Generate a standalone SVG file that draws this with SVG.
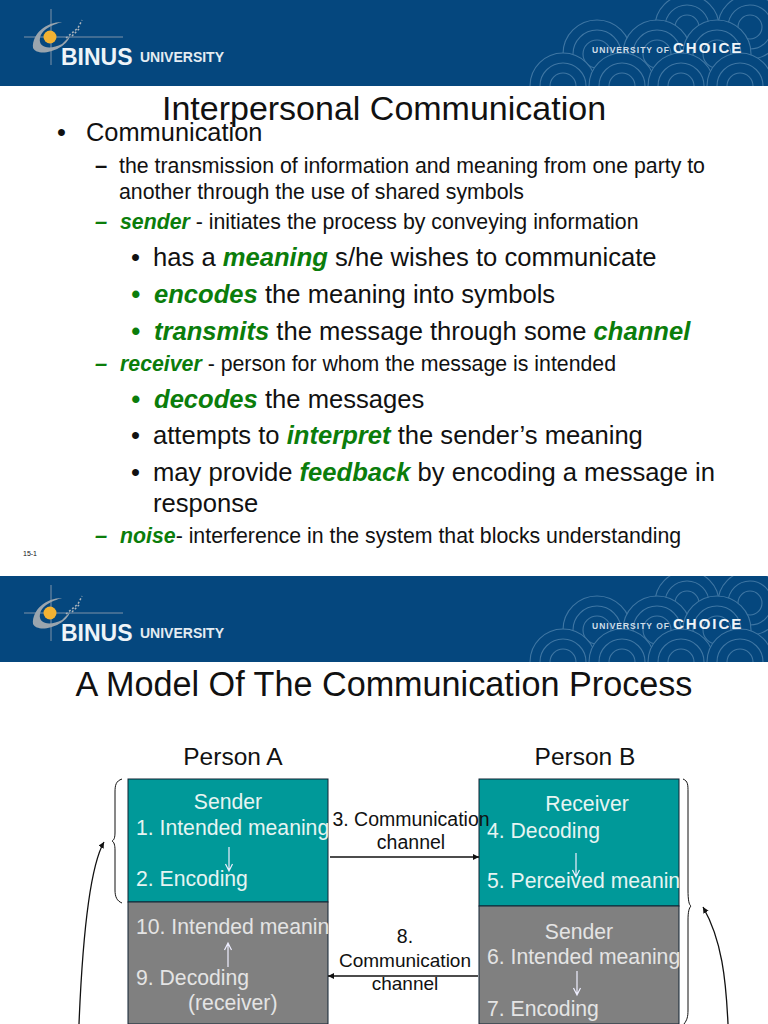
<svg xmlns="http://www.w3.org/2000/svg" width="768" height="1024" viewBox="0 0 768 1024">
<style>
text{font-family:"Liberation Sans",Arial,sans-serif;fill:#111}
.g{font-weight:bold;font-style:italic;fill:#0b7d0b}
.t{font-size:34px}
.l1{font-size:25.400px}
.dash{font-size:22px;font-weight:bold}
.l3{font-size:25.600px}
.d{font-size:21.300px}
.w{fill:#e6f4f2;font-size:21.200px}
.y{fill:#e4e4e4;font-size:21.200px}
.m{text-anchor:middle}
.box{stroke:#123;stroke-width:1}
.conn{fill:none;stroke:#111;stroke-width:1.300px}
.wa{stroke:#eef;stroke-width:1.200px;fill:none}
.arc{fill:#05477e;stroke:#3f76a3;stroke-width:1.100px}
.b1{font-weight:bold;fill:#eef4f8;font-size:23px}
.b2{font-weight:bold;fill:#e4ecf2;font-size:14px}
.u1{fill:#cfdde8;font-size:8.500px;font-weight:bold;letter-spacing:1px}
.u2{fill:#eef4f8;font-size:15px;font-weight:bold;letter-spacing:2px}
</style>
<defs>
<clipPath id="bc"><rect x="520" y="0" width="248" height="86"/></clipPath>
<marker id="ah" markerUnits="userSpaceOnUse" markerWidth="7" markerHeight="7" refX="6" refY="3" orient="auto"><path d="M0 0L6 3L0 6z" fill="#111"/></marker>
<g id="pat">
<g clip-path="url(#bc)">
<circle cx="687" cy="27" r="32" class="arc"/><circle cx="687" cy="27" r="22" class="arc"/><circle cx="687" cy="27" r="12" class="arc"/>
<circle cx="750" cy="27" r="32" class="arc"/><circle cx="750" cy="27" r="22" class="arc"/><circle cx="750" cy="27" r="12" class="arc"/>
<circle cx="597" cy="54" r="34" class="arc"/><circle cx="597" cy="54" r="24" class="arc"/><circle cx="597" cy="54" r="14" class="arc"/>
<circle cx="657" cy="54" r="34" class="arc"/><circle cx="657" cy="54" r="24" class="arc"/><circle cx="657" cy="54" r="14" class="arc"/>
<circle cx="717" cy="54" r="34" class="arc"/><circle cx="717" cy="54" r="24" class="arc"/><circle cx="717" cy="54" r="14" class="arc"/>
<circle cx="563" cy="86" r="33" class="arc"/><circle cx="563" cy="86" r="23" class="arc"/><circle cx="563" cy="86" r="13" class="arc"/>
<circle cx="622" cy="86" r="33" class="arc"/><circle cx="622" cy="86" r="23" class="arc"/><circle cx="622" cy="86" r="13" class="arc"/>
<circle cx="681" cy="86" r="33" class="arc"/><circle cx="681" cy="86" r="23" class="arc"/><circle cx="681" cy="86" r="13" class="arc"/>
<circle cx="740" cy="86" r="33" class="arc"/><circle cx="740" cy="86" r="23" class="arc"/><circle cx="740" cy="86" r="13" class="arc"/>
</g>
<path d="M51 9V65M24 37H123" stroke="#7f93a8" stroke-width="1" fill="none"/>
<path d="M33 48C32 34 46 22 62 22C56 24 42 28 40 38C38 48 50 50 62 44L70 36C66 50 38 58 33 48z" fill="#9aa5ae"/>
<circle cx="50" cy="37" r="6.500" fill="#f2b233"/>
<path d="M66 38L78 28L82 20M72 36L80 28" stroke="#aab4bd" stroke-width="1.500" stroke-dasharray="2 2" fill="none"/>
</g>
</defs>

<rect width="768" height="1024" fill="#fff"/>

<g id="header-1">
<rect width="768" height="86" fill="#05477e"/>
<use href="#pat"/>
<text class="b1" x="61" y="65">BINUS</text>
<text class="b2" x="140" y="62">UNIVERSITY</text>
<text class="u1" x="592" y="53">UNIVERSITY OF</text>
<text class="u2" x="673" y="53">CHOICE</text>
</g>

<g id="slide-1">
<text class="t m" x="384" y="120">Interpersonal Communication</text>
<text class="l1" x="57" y="141">•</text>
<text class="l1" x="86" y="141">Communication</text>
<text class="dash" x="95" y="173">–</text>
<text class="d" x="119" y="173">the transmission of information and meaning from one party to</text>
<text class="d" x="119" y="199">another through the use of shared symbols</text>
<text class="dash g" x="95" y="229">–</text>
<text class="d" x="120" y="229"><tspan class="g">sender</tspan> - initiates the process by conveying information</text>
<text class="l3" x="131" y="266">•</text>
<text class="l3" x="153" y="266">has a <tspan class="g">meaning</tspan> s/he wishes to communicate</text>
<text class="l3 g" x="131" y="303">•</text>
<text class="l3" x="154" y="303"><tspan class="g">encodes</tspan> the meaning into symbols</text>
<text class="l3 g" x="131" y="340">•</text>
<text class="l3" x="154" y="340"><tspan class="g">transmits</tspan> the message through some <tspan class="g">channel</tspan></text>
<text class="dash g" x="95" y="371">–</text>
<text class="d" x="120" y="371"><tspan class="g">receiver</tspan> - person for whom the message is intended</text>
<text class="l3 g" x="131" y="408">•</text>
<text class="l3" x="154" y="408"><tspan class="g">decodes</tspan> the messages</text>
<text class="l3" x="131" y="444">•</text>
<text class="l3" x="153" y="444">attempts to <tspan class="g">interpret</tspan> the sender’s meaning</text>
<text class="l3" x="131" y="481">•</text>
<text class="l3" x="153" y="481">may provide <tspan class="g">feedback</tspan> by encoding a message in</text>
<text class="l3" x="153" y="512">response</text>
<text class="dash g" x="95" y="543">–</text>
<text class="d" x="120" y="543"><tspan class="g">noise</tspan>- interference in the system that blocks understanding</text>
<text x="23" y="556" style="font-size:7px">15-1</text>
</g>

<g id="header-2">
<rect y="576" width="768" height="86" fill="#05477e"/>
<use href="#pat" y="576"/>
<text class="b1" x="61" y="641">BINUS</text>
<text class="b2" x="140" y="638">UNIVERSITY</text>
<text class="u1" x="592" y="629">UNIVERSITY OF</text>
<text class="u2" x="673" y="629">CHOICE</text>
</g>

<g id="slide-2">
<text class="m" x="384" y="696" style="font-size:34.200px">A Model Of The Communication Process</text>
<text class="m" x="233" y="765" style="font-size:24.500px">Person A</text>
<text class="m" x="585" y="765" style="font-size:24.500px">Person B</text>
</g>

<g id="node-a-sender">
<rect class="box" x="128" y="779" width="200" height="123" fill="#009999"/>
<text class="w m" x="228" y="809">Sender</text>
<text class="w" x="136" y="835">1. Intended meaning</text>
<text class="w" x="136" y="886">2. Encoding</text>
</g>
<g id="node-a-receiver">
<rect class="box" x="128" y="902" width="200" height="122" fill="#808080"/>
<text class="y" x="136" y="934">10. Intended meanin</text>
<text class="y" x="136" y="985">9. Decoding</text>
<text class="y" x="188" y="1010">(receiver)</text>
</g>
<g id="node-b-receiver">
<rect class="box" x="479" y="779" width="200" height="127" fill="#009999"/>
<text class="w m" x="587" y="811">Receiver</text>
<text class="w" x="487" y="838">4. Decoding</text>
<text class="w" x="487" y="888">5. Perceived meanin</text>
</g>
<g id="node-b-sender">
<rect class="box" x="479" y="906" width="200" height="118" fill="#808080"/>
<text class="y m" x="579" y="939">Sender</text>
<text class="y" x="487" y="964">6. Intended meaning</text>
<text class="y" x="487" y="1016">7. Encoding</text>
</g>
<g id="label-3">
<text class="m" style="font-size:19.500px" x="411" y="826">3. Communication</text>
<text class="m" style="font-size:19.500px" x="411" y="849">channel</text>
</g>
<g id="label-8">
<text class="m" style="font-size:19.500px" x="405" y="943">8.</text>
<text class="m" style="font-size:19px" x="405" y="967">Communication</text>
<text class="m" style="font-size:19px" x="405" y="990">channel</text>
</g>

<g id="connectors">
<path class="conn" d="M330 857H479" marker-end="url(#ah)"/>
<path class="conn" d="M478 976H328" marker-end="url(#ah)"/>
<path class="wa" d="M229 847V870M225.500 864L229 871L232.500 864"/>
<path class="wa" d="M228 967V943M224.500 950L228 943L231.500 950"/>
<path class="wa" d="M576 853V876M572.500 870L576 877L579.500 870"/>
<path class="wa" d="M577 971V994M573.500 988L577 995L580.500 988"/>
<path class="conn" style="stroke-width:1px" d="M122 779C116 781 115 785 115 792V832C115 838 114 840 112 841C114 842 115 845 115 850V890C115 897 117 901 122 903"/>
<path class="conn" style="stroke-width:1px" d="M683 779C688 781 688 785 688 792V890C688 900 689 905 691 906C689 908 688 912 688 920V1010C688 1017 687 1020 684 1024"/>
<path class="conn" d="M79 1024C82 950 88 870 104 842" marker-end="url(#ah)"/>
<path class="conn" d="M728 1024C726 980 722 940 703 907" marker-end="url(#ah)"/>
</g>
</svg>
